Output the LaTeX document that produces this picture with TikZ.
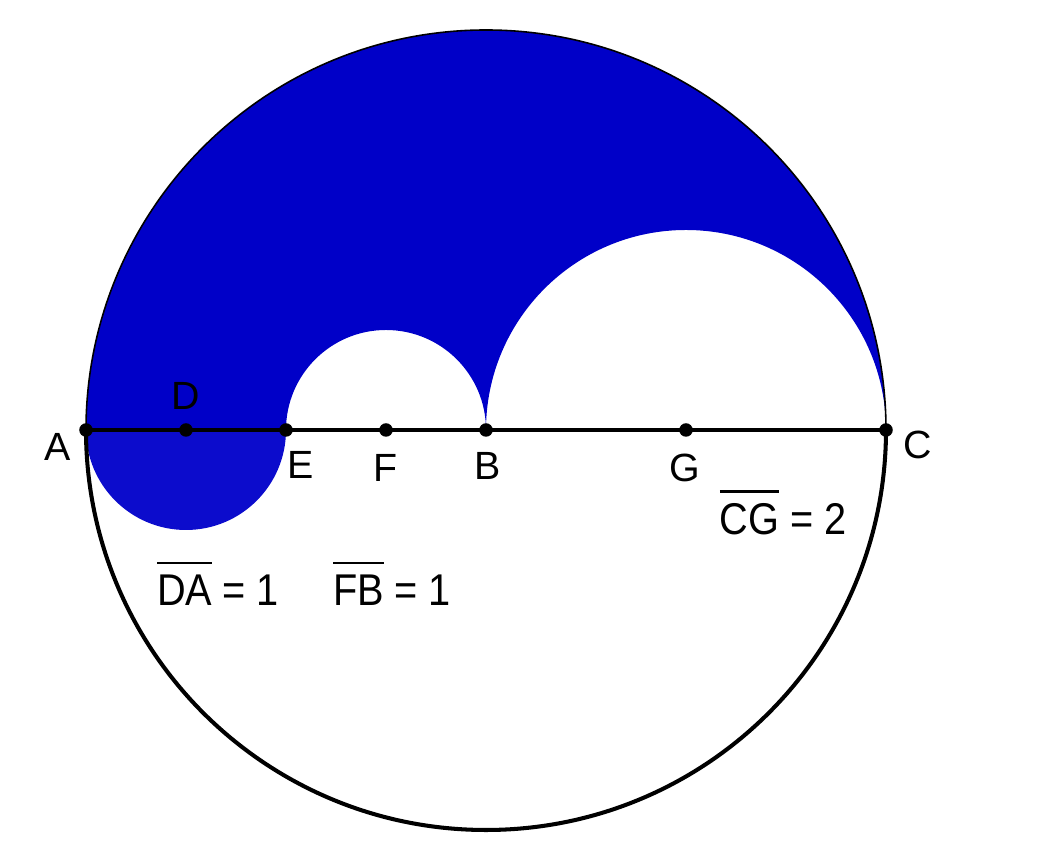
\documentclass[tikz,border=0pt]{standalone}
\usepackage{fontspec}
\setmainfont{Liberation Sans}
\definecolor{fillup}{RGB}{0,0,200}
\definecolor{filllow}{RGB}{12,12,204}
\newcommand{\ovl}[1]{\vbox{\hrule height 0.6pt\kern 0.25em\hbox{#1}}}
\newcommand{\annt}[2]{\scalebox{1}[1.12]{\ovl{#1}\hspace{0.27em}=\hspace{0.27em}#2}}
\begin{document}
\begin{tikzpicture}[
  dot/.style={circle,fill=black,inner sep=0pt,minimum size=0.135cm},
  lbl/.style={font=\fontsize{11.2}{12}\selectfont,inner sep=0pt},
  ann/.style={font=\fontsize{11.3}{13}\selectfont,inner sep=0pt,anchor=base}
]
\useasboundingbox (-4.86,-4.20) rectangle (5.65,4.30);
% coordinates
\coordinate (pA) at (-4,0);
\coordinate (pD) at (-3,0);
\coordinate (pE) at (-2,0);
\coordinate (pF) at (-1,0);
\coordinate (pB) at (0,0);
\coordinate (pG) at (2,0);
\coordinate (pC) at (4,0);
% shaded regions
\fill[fillup] (pA) arc[start angle=180,end angle=0,radius=4]
  arc[start angle=0,end angle=180,radius=2]
  arc[start angle=0,end angle=180,radius=1] -- cycle;
\fill[filllow] (pE) arc[start angle=0,end angle=-180,radius=1] -- cycle;
% big circle
\draw[line width=0.45pt] (pA) arc[start angle=180,end angle=0,radius=4];
\draw[line width=1.15pt] (pA) arc[start angle=180,end angle=360,radius=4];
% diameter
\draw[line width=1.15pt] (pA) -- (pC);
% points
\foreach \p in {pA,pD,pE,pF,pB,pG,pC} \node[dot] at (\p) {};
% labels
\node[lbl] (lA) at (-4.28,-0.17) {A};
\node[lbl] (lD) at (-3.00,0.34) {D};
\node[lbl] (lE) at (-1.85,-0.35) {E};
\node[lbl] (lF) at (-1.00,-0.38) {F};
\node[lbl] (lB) at (0.02,-0.36) {B};
\node[lbl] (lG) at (1.99,-0.38) {G};
\node[lbl] (lC) at (4.32,-0.15) {C};
% annotations
\node[ann] (tDA) at (-2.68,-1.76) {\annt{DA}{1}};
\node[ann] (tFB) at (-0.94,-1.76) {\annt{FB}{1}};
\node[ann] (tCG) at (2.97,-1.05) {\annt{CG}{2}};
\end{tikzpicture}
\end{document}
